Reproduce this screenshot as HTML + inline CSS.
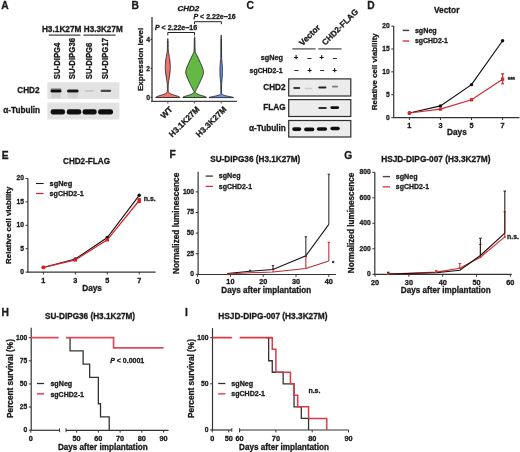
<!DOCTYPE html>
<html><head><meta charset="utf-8"><title>Figure</title>
<style>
html,body{margin:0;padding:0;background:#fff;}
svg{display:block;filter:blur(0.25px);}
text{font-family:'Liberation Sans', Arial, Helvetica, sans-serif;font-weight:bold;fill:#1a1a1a;stroke:#1a1a1a;stroke-width:0.3px;}
</style></head><body>
<svg width="520" height="452" viewBox="0 0 520 452">
<defs><filter id="bl" x="-50%" y="-100%" width="200%" height="300%"><feGaussianBlur stdDeviation="0.5"/></filter></defs>
<rect width="520" height="452" fill="#fff"/>
<text x="1.3" y="8.8" font-size="10.25">A</text>
<text x="131.5" y="8.9" font-size="10.25">B</text>
<text x="246.5" y="9.0" font-size="10.25">C</text>
<text x="367.2" y="8.7" font-size="10.25">D</text>
<text x="1.8" y="158.7" font-size="10.25">E</text>
<text x="169.6" y="158.3" font-size="10.25">F</text>
<text x="344.2" y="158.7" font-size="10.25">G</text>
<text x="1.5" y="315.8" font-size="10.25">H</text>
<text x="185.0" y="315.9" font-size="10.25">I</text>
<text x="41.9" y="31.6" font-size="8.2" textLength="39.6" lengthAdjust="spacingAndGlyphs">H3.1K27M</text>
<text x="83.8" y="31.6" font-size="8.2" textLength="38.9" lengthAdjust="spacingAndGlyphs">H3.3K27M</text>
<line x1="48.7" y1="35.2" x2="80.4" y2="35.2" stroke="#444" stroke-width="1.2"/>
<line x1="83.5" y1="35.2" x2="115.6" y2="35.2" stroke="#444" stroke-width="1.2"/>
<text x="60.45" y="79.2" font-size="9.2" textLength="36.6" lengthAdjust="spacingAndGlyphs" transform="rotate(-90 60.45 79.2)">SU-DIPG4</text>
<text x="75.4" y="79.2" font-size="9.2" textLength="41.3" lengthAdjust="spacingAndGlyphs" transform="rotate(-90 75.4 79.2)">SU-DIPG36</text>
<text x="92.45" y="79.2" font-size="9.2" textLength="36.6" lengthAdjust="spacingAndGlyphs" transform="rotate(-90 92.45 79.2)">SU-DIPG6</text>
<text x="108.0" y="79.2" font-size="9.2" textLength="41.3" lengthAdjust="spacingAndGlyphs" transform="rotate(-90 108.0 79.2)">SU-DIPG17</text>
<rect x="47.4" y="82.3" width="72" height="16.6" fill="#e2e2e2" stroke="none" stroke-width="0"/>
<rect x="47.4" y="102.6" width="72" height="16.9" fill="#e2e2e2" stroke="none" stroke-width="0"/>
<text x="39.6" y="93.0" font-size="8.2" text-anchor="end">CHD2</text>
<text x="40.0" y="113.0" font-size="8.2" text-anchor="end">α-Tubulin</text>
<rect x="50.6" y="88.6" width="10.799999999999997" height="2.200000000000003" rx="1.1000000000000014" fill="#111" opacity="0.6" filter="url(#bl)"/>
<rect x="50.6" y="90.0" width="10.799999999999997" height="2.5999999999999943" rx="1.2999999999999972" fill="#111" opacity="1.0" filter="url(#bl)"/>
<rect x="51.0" y="93.0" width="10.0" height="5.200000000000003" rx="2.2" fill="#111" opacity="0.08" filter="url(#bl)"/>
<rect x="67.0" y="89.4" width="11.599999999999994" height="3.0" rx="1.5" fill="#111" opacity="0.95" filter="url(#bl)"/>
<rect x="67.3" y="93.0" width="11.0" height="5.200000000000003" rx="2.2" fill="#111" opacity="0.06" filter="url(#bl)"/>
<rect x="84.6" y="89.9" width="9.200000000000003" height="1.7999999999999972" rx="0.8999999999999986" fill="#111" opacity="0.13" filter="url(#bl)"/>
<rect x="100.6" y="89.7" width="10.600000000000009" height="2.299999999999997" rx="1.1499999999999986" fill="#111" opacity="0.72" filter="url(#bl)"/>
<rect x="50.7" y="109.3" width="14.299999999999997" height="5.200000000000003" rx="2.2" fill="#111" opacity="1.0" filter="url(#bl)"/>
<rect x="66.8" y="109.3" width="14.400000000000006" height="5.200000000000003" rx="2.2" fill="#111" opacity="1.0" filter="url(#bl)"/>
<rect x="82.6" y="109.3" width="14.100000000000009" height="5.200000000000003" rx="2.2" fill="#111" opacity="1.0" filter="url(#bl)"/>
<rect x="98.1" y="109.3" width="14.900000000000006" height="5.200000000000003" rx="2.2" fill="#111" opacity="1.0" filter="url(#bl)"/>
<text x="188.4" y="10.6" font-size="8.0" text-anchor="middle" font-style="italic">CHD2</text>
<text x="193.5" y="19.0" font-size="7.0"><tspan font-style="italic">P</tspan> &lt; 2.22e−16</text>
<text x="155.0" y="30.0" font-size="7.0"><tspan font-style="italic">P</tspan> &lt; 2.22e−16</text>
<path d="M194.5 24.2 V21.7 H221.4 V24.2" stroke="#222" stroke-width="1.0" fill="none"/>
<path d="M167.8 35.4 V32.5 H194.5 V35.4" stroke="#222" stroke-width="1.0" fill="none"/>
<line x1="152.0" y1="16.9" x2="152.0" y2="101.9" stroke="#5a5a5a" stroke-width="1.6"/>
<line x1="151.2" y1="101.35" x2="237.0" y2="101.35" stroke="#444" stroke-width="1.1"/>
<line x1="150.6" y1="97.4" x2="152.0" y2="97.4" stroke="#1a1a1a" stroke-width="0.9"/>
<text x="150.1" y="99.7" font-size="7.8" text-anchor="end" textLength="3.82" lengthAdjust="spacingAndGlyphs">0</text>
<line x1="150.6" y1="68.4" x2="152.0" y2="68.4" stroke="#1a1a1a" stroke-width="0.9"/>
<text x="150.1" y="70.6" font-size="7.8" text-anchor="end" textLength="3.82" lengthAdjust="spacingAndGlyphs">2</text>
<line x1="150.6" y1="39.400000000000006" x2="152.0" y2="39.400000000000006" stroke="#1a1a1a" stroke-width="0.9"/>
<text x="150.1" y="41.8" font-size="7.8" text-anchor="end" textLength="3.82" lengthAdjust="spacingAndGlyphs">4</text>
<line x1="167.9" y1="101.3" x2="167.9" y2="103.5" stroke="#444" stroke-width="0.9"/>
<line x1="194.4" y1="101.3" x2="194.4" y2="103.5" stroke="#444" stroke-width="0.9"/>
<line x1="221.2" y1="101.3" x2="221.2" y2="103.5" stroke="#444" stroke-width="0.9"/>
<text x="173.0" y="110.0" font-size="8.2" text-anchor="end" transform="rotate(-45 173.0 110.0)">WT</text>
<text x="200.0" y="110.0" font-size="8.2" text-anchor="end" transform="rotate(-45 200.0 110.0)">H3.1K27M</text>
<text x="227.0" y="110.0" font-size="8.2" text-anchor="end" transform="rotate(-45 227.0 110.0)">H3.3K27M</text>
<text x="142.7" y="59.35" font-size="8.03" text-anchor="middle" transform="rotate(-90 142.7 59.35)">Expression level</text>
<path d="M167.80 38.50 L167.80 38.50 L167.84 38.83 L167.90 39.24 L167.97 39.75 L168.04 40.37 L168.10 41.12 L168.15 42.00 L168.17 43.11 L168.18 44.44 L168.18 45.91 L168.18 47.39 L168.20 48.79 L168.25 50.00 L168.34 51.01 L168.45 51.89 L168.58 52.69 L168.72 53.44 L168.86 54.20 L169.00 55.00 L169.13 55.82 L169.27 56.61 L169.42 57.41 L169.55 58.22 L169.68 59.08 L169.80 60.00 L169.91 61.01 L170.02 62.09 L170.12 63.22 L170.20 64.35 L170.27 65.46 L170.30 66.50 L170.30 67.47 L170.28 68.39 L170.23 69.28 L170.17 70.17 L170.09 71.07 L170.00 72.00 L169.90 72.98 L169.77 74.00 L169.63 75.03 L169.49 76.06 L169.34 77.05 L169.20 78.00 L169.06 78.89 L168.91 79.74 L168.76 80.56 L168.62 81.37 L168.50 82.18 L168.40 83.00 L168.33 83.85 L168.28 84.72 L168.24 85.59 L168.22 86.44 L168.21 87.25 L168.20 88.00 L168.19 88.69 L168.18 89.35 L168.18 89.97 L168.19 90.54 L168.23 91.05 L168.30 91.50 L168.40 91.87 L168.51 92.16 L168.65 92.39 L168.82 92.59 L169.04 92.78 L169.30 93.00 L169.61 93.23 L169.97 93.45 L170.36 93.66 L170.80 93.87 L171.28 94.09 L171.80 94.30 L172.39 94.52 L173.06 94.74 L173.77 94.97 L174.49 95.19 L175.17 95.40 L175.80 95.60 L176.38 95.79 L176.95 95.97 L177.49 96.14 L177.99 96.30 L178.43 96.45 L178.80 96.60 L179.09 96.74 L179.32 96.87 L179.49 97.00 L179.61 97.11 L179.71 97.22 L179.80 97.30 L179.86 97.36 L179.87 97.41 L179.86 97.44 L179.84 97.47 L179.81 97.48 L179.80 97.50 L155.80 97.50 L155.79 97.48 L155.76 97.47 L155.74 97.44 L155.73 97.41 L155.74 97.36 L155.80 97.30 L155.89 97.22 L155.99 97.11 L156.11 97.00 L156.28 96.87 L156.51 96.74 L156.80 96.60 L157.17 96.45 L157.61 96.30 L158.11 96.14 L158.65 95.97 L159.22 95.79 L159.80 95.60 L160.43 95.40 L161.11 95.19 L161.83 94.97 L162.54 94.74 L163.21 94.52 L163.80 94.30 L164.32 94.09 L164.80 93.87 L165.24 93.66 L165.63 93.45 L165.99 93.23 L166.30 93.00 L166.56 92.78 L166.78 92.59 L166.95 92.39 L167.09 92.16 L167.20 91.87 L167.30 91.50 L167.37 91.05 L167.41 90.54 L167.43 89.97 L167.42 89.35 L167.41 88.69 L167.40 88.00 L167.39 87.25 L167.38 86.44 L167.36 85.59 L167.32 84.72 L167.27 83.85 L167.20 83.00 L167.10 82.18 L166.98 81.37 L166.84 80.56 L166.69 79.74 L166.54 78.89 L166.40 78.00 L166.26 77.05 L166.11 76.06 L165.97 75.03 L165.83 74.00 L165.70 72.98 L165.60 72.00 L165.51 71.07 L165.43 70.17 L165.37 69.28 L165.32 68.39 L165.30 67.47 L165.30 66.50 L165.33 65.46 L165.40 64.35 L165.48 63.22 L165.58 62.09 L165.69 61.01 L165.80 60.00 L165.92 59.08 L166.05 58.22 L166.18 57.41 L166.33 56.61 L166.47 55.82 L166.60 55.00 L166.74 54.20 L166.88 53.44 L167.02 52.69 L167.15 51.89 L167.26 51.01 L167.35 50.00 L167.40 48.79 L167.42 47.39 L167.43 45.91 L167.42 44.44 L167.43 43.11 L167.45 42.00 L167.50 41.12 L167.56 40.37 L167.63 39.75 L167.70 39.24 L167.76 38.83 L167.80 38.50 Z" stroke="#1e1e1e" stroke-width="0.85" fill="#f0736e" stroke-linejoin="round"/>
<path d="M194.60 36.70 L194.60 36.70 L194.63 36.99 L194.68 37.34 L194.74 37.79 L194.80 38.36 L194.86 39.08 L194.90 40.00 L194.93 41.23 L194.95 42.78 L194.97 44.49 L194.98 46.20 L195.01 47.75 L195.05 49.00 L195.09 49.90 L195.13 50.57 L195.18 51.09 L195.25 51.54 L195.35 51.98 L195.50 52.50 L195.70 53.05 L195.93 53.57 L196.20 54.09 L196.51 54.65 L196.84 55.27 L197.20 56.00 L197.61 56.87 L198.07 57.85 L198.57 58.91 L199.07 59.98 L199.56 61.03 L200.00 62.00 L200.41 62.89 L200.81 63.73 L201.19 64.54 L201.56 65.35 L201.89 66.16 L202.20 67.00 L202.50 67.87 L202.80 68.77 L203.07 69.67 L203.29 70.57 L203.44 71.45 L203.50 72.30 L203.44 73.11 L203.29 73.90 L203.07 74.67 L202.80 75.43 L202.50 76.21 L202.20 77.00 L201.89 77.82 L201.53 78.66 L201.16 79.51 L200.77 80.36 L200.38 81.19 L200.00 82.00 L199.63 82.79 L199.25 83.57 L198.88 84.34 L198.50 85.09 L198.14 85.81 L197.80 86.50 L197.47 87.16 L197.14 87.79 L196.82 88.39 L196.52 88.97 L196.24 89.50 L196.00 90.00 L195.77 90.45 L195.54 90.86 L195.34 91.23 L195.19 91.57 L195.10 91.89 L195.10 92.20 L195.19 92.48 L195.37 92.73 L195.61 92.96 L195.90 93.17 L196.24 93.38 L196.60 93.60 L197.00 93.82 L197.45 94.04 L197.94 94.26 L198.47 94.48 L199.02 94.69 L199.60 94.90 L200.23 95.11 L200.91 95.32 L201.63 95.53 L202.34 95.73 L203.01 95.92 L203.60 96.10 L204.13 96.27 L204.63 96.44 L205.08 96.59 L205.49 96.74 L205.83 96.88 L206.10 97.00 L206.28 97.11 L206.37 97.21 L206.41 97.31 L206.40 97.39 L206.39 97.45 L206.40 97.50 L182.80 97.50 L182.81 97.45 L182.80 97.39 L182.79 97.31 L182.83 97.21 L182.92 97.11 L183.10 97.00 L183.37 96.88 L183.71 96.74 L184.12 96.59 L184.57 96.44 L185.07 96.27 L185.60 96.10 L186.19 95.92 L186.86 95.73 L187.57 95.53 L188.29 95.32 L188.97 95.11 L189.60 94.90 L190.18 94.69 L190.73 94.48 L191.26 94.26 L191.75 94.04 L192.20 93.82 L192.60 93.60 L192.96 93.38 L193.30 93.17 L193.59 92.96 L193.83 92.73 L194.01 92.48 L194.10 92.20 L194.10 91.89 L194.01 91.57 L193.86 91.23 L193.66 90.86 L193.43 90.45 L193.20 90.00 L192.96 89.50 L192.68 88.97 L192.38 88.39 L192.06 87.79 L191.73 87.16 L191.40 86.50 L191.06 85.81 L190.70 85.09 L190.32 84.34 L189.95 83.57 L189.57 82.79 L189.20 82.00 L188.82 81.19 L188.43 80.36 L188.04 79.51 L187.67 78.66 L187.31 77.82 L187.00 77.00 L186.70 76.21 L186.40 75.43 L186.13 74.67 L185.91 73.90 L185.76 73.11 L185.70 72.30 L185.76 71.45 L185.91 70.57 L186.13 69.67 L186.40 68.77 L186.70 67.87 L187.00 67.00 L187.31 66.16 L187.64 65.35 L188.01 64.54 L188.39 63.73 L188.79 62.89 L189.20 62.00 L189.64 61.03 L190.13 59.98 L190.63 58.91 L191.13 57.85 L191.59 56.87 L192.00 56.00 L192.36 55.27 L192.69 54.65 L193.00 54.09 L193.27 53.57 L193.50 53.05 L193.70 52.50 L193.85 51.98 L193.95 51.54 L194.02 51.09 L194.07 50.57 L194.11 49.90 L194.15 49.00 L194.19 47.75 L194.22 46.20 L194.23 44.49 L194.25 42.78 L194.27 41.23 L194.30 40.00 L194.34 39.08 L194.40 38.36 L194.46 37.79 L194.52 37.34 L194.57 36.99 L194.60 36.70 Z" stroke="#1e1e1e" stroke-width="0.85" fill="#66b845" stroke-linejoin="round"/>
<path d="M221.20 35.10 L221.20 35.10 L221.23 35.50 L221.29 35.96 L221.34 36.55 L221.40 37.36 L221.46 38.48 L221.50 40.00 L221.53 42.15 L221.54 44.92 L221.55 47.99 L221.56 51.07 L221.57 53.84 L221.60 56.00 L221.64 57.47 L221.68 58.48 L221.73 59.19 L221.79 59.74 L221.84 60.29 L221.90 61.00 L221.96 61.84 L222.03 62.69 L222.11 63.53 L222.18 64.37 L222.24 65.20 L222.30 66.00 L222.35 66.77 L222.40 67.50 L222.44 68.22 L222.47 68.94 L222.49 69.70 L222.50 70.50 L222.49 71.36 L222.47 72.28 L222.44 73.22 L222.40 74.17 L222.35 75.10 L222.30 76.00 L222.24 76.86 L222.18 77.70 L222.11 78.53 L222.03 79.35 L221.96 80.17 L221.90 81.00 L221.84 81.82 L221.78 82.63 L221.72 83.44 L221.67 84.26 L221.63 85.11 L221.60 86.00 L221.58 86.99 L221.56 88.07 L221.56 89.17 L221.56 90.24 L221.57 91.21 L221.60 92.00 L221.62 92.60 L221.64 93.06 L221.66 93.41 L221.72 93.69 L221.82 93.94 L222.00 94.20 L222.24 94.45 L222.53 94.65 L222.88 94.83 L223.27 94.98 L223.71 95.14 L224.20 95.30 L224.76 95.47 L225.40 95.65 L226.09 95.82 L226.80 95.99 L227.51 96.15 L228.20 96.30 L228.90 96.45 L229.63 96.59 L230.37 96.73 L231.07 96.86 L231.69 96.99 L232.20 97.10 L232.59 97.21 L232.88 97.31 L233.10 97.40 L233.26 97.48 L233.39 97.55 L233.50 97.60 L208.90 97.60 L209.01 97.55 L209.14 97.48 L209.30 97.40 L209.52 97.31 L209.81 97.21 L210.20 97.10 L210.71 96.99 L211.33 96.86 L212.03 96.73 L212.77 96.59 L213.50 96.45 L214.20 96.30 L214.89 96.15 L215.60 95.99 L216.31 95.82 L217.00 95.65 L217.64 95.47 L218.20 95.30 L218.69 95.14 L219.13 94.98 L219.52 94.83 L219.87 94.65 L220.16 94.45 L220.40 94.20 L220.58 93.94 L220.68 93.69 L220.74 93.41 L220.76 93.06 L220.78 92.60 L220.80 92.00 L220.83 91.21 L220.84 90.24 L220.84 89.17 L220.84 88.07 L220.82 86.99 L220.80 86.00 L220.77 85.11 L220.73 84.26 L220.67 83.44 L220.62 82.63 L220.56 81.82 L220.50 81.00 L220.44 80.17 L220.37 79.35 L220.29 78.53 L220.22 77.70 L220.16 76.86 L220.10 76.00 L220.05 75.10 L220.00 74.17 L219.96 73.22 L219.93 72.28 L219.91 71.36 L219.90 70.50 L219.91 69.70 L219.93 68.94 L219.96 68.22 L220.00 67.50 L220.05 66.77 L220.10 66.00 L220.16 65.20 L220.22 64.37 L220.29 63.53 L220.37 62.69 L220.44 61.84 L220.50 61.00 L220.56 60.29 L220.61 59.74 L220.67 59.19 L220.72 58.48 L220.76 57.47 L220.80 56.00 L220.83 53.84 L220.84 51.07 L220.85 47.99 L220.86 44.92 L220.87 42.15 L220.90 40.00 L220.94 38.48 L221.00 37.36 L221.06 36.55 L221.11 35.96 L221.17 35.50 L221.20 35.10 Z" stroke="#1e1e1e" stroke-width="0.85" fill="#6491f0" stroke-linejoin="round"/>
<text x="302.6" y="46.2" font-size="8.4" transform="rotate(-45 302.6 46.2)">Vector</text>
<text x="325.3" y="45.8" font-size="8.2" transform="rotate(-45 325.3 45.8)">CHD2-FLAG</text>
<line x1="292.3" y1="48.9" x2="315.5" y2="48.9" stroke="#555" stroke-width="1.3"/>
<line x1="318.3" y1="48.9" x2="341.5" y2="48.9" stroke="#555" stroke-width="1.3"/>
<text x="283.0" y="60.2" font-size="7.3" text-anchor="end">sgNeg</text>
<text x="282.5" y="72.6" font-size="7.3" text-anchor="end" textLength="32.9" lengthAdjust="spacingAndGlyphs">sgCHD2-1</text>
<text x="296.25" y="60.0" font-size="7.3" text-anchor="middle">+</text>
<text x="309.4" y="60.8" font-size="7.3" text-anchor="middle">−</text>
<text x="321.6" y="60.0" font-size="7.3" text-anchor="middle">+</text>
<text x="334.9" y="60.8" font-size="7.3" text-anchor="middle">−</text>
<text x="296.5" y="72.7" font-size="7.3" text-anchor="middle">−</text>
<text x="309.7" y="72.7" font-size="7.3" text-anchor="middle">+</text>
<text x="322.2" y="72.7" font-size="7.3" text-anchor="middle">−</text>
<text x="334.7" y="72.7" font-size="7.3" text-anchor="middle">+</text>
<rect x="288.70000000000005" y="78.89999999999999" width="62.099999999999994" height="17.099999999999998" fill="#ececec" stroke="#2e2e2e" stroke-width="1.2"/>
<rect x="288.70000000000005" y="99.6" width="62.099999999999994" height="16.899999999999995" fill="#ececec" stroke="#2e2e2e" stroke-width="1.2"/>
<rect x="288.70000000000005" y="120.5" width="62.099999999999994" height="16.49999999999999" fill="#ececec" stroke="#2e2e2e" stroke-width="1.2"/>
<text x="285.6" y="89.9" font-size="8.2" text-anchor="end">CHD2</text>
<text x="285.6" y="110.1" font-size="8.2" text-anchor="end">FLAG</text>
<text x="285.8" y="131.0" font-size="8.2" text-anchor="end">α-Tubulin</text>
<rect x="293.2" y="87.0" width="7.0" height="2.0" rx="1.0" fill="#111" opacity="0.8" filter="url(#bl)"/>
<rect x="304.6" y="87.7" width="7.599999999999966" height="1.5999999999999943" rx="0.7999999999999972" fill="#111" opacity="0.14" filter="url(#bl)"/>
<rect x="318.3" y="86.6" width="8.099999999999966" height="2.0" rx="1.0" fill="#111" opacity="0.9" filter="url(#bl)"/>
<rect x="331.9" y="85.8" width="6.2000000000000455" height="1.6000000000000085" rx="0.8000000000000043" fill="#111" opacity="0.5" filter="url(#bl)"/>
<rect x="318.3" y="106.9" width="8.5" height="2.0" rx="1.0" fill="#111" opacity="0.85" filter="url(#bl)"/>
<rect x="330.4" y="106.3" width="8.700000000000045" height="2.6000000000000085" rx="1.3000000000000043" fill="#111" opacity="1.0" filter="url(#bl)"/>
<rect x="292.2" y="127.3" width="9.100000000000023" height="3.6000000000000085" rx="1.8000000000000043" fill="#111" opacity="1.0" filter="url(#bl)"/>
<rect x="304.1" y="127.60000000000001" width="10.199999999999989" height="3.6000000000000085" rx="1.8000000000000043" fill="#111" opacity="1.0" filter="url(#bl)"/>
<rect x="316.8" y="127.2" width="10.300000000000011" height="3.6000000000000085" rx="1.8000000000000043" fill="#111" opacity="1.0" filter="url(#bl)"/>
<rect x="330.4" y="126.7" width="9.400000000000034" height="3.6000000000000085" rx="1.8000000000000043" fill="#111" opacity="1.0" filter="url(#bl)"/>
<text x="446.7" y="12.6" font-size="8.3" text-anchor="middle">Vector</text>
<line x1="393.7" y1="26.0" x2="393.7" y2="117.8" stroke="#333" stroke-width="1.2"/>
<line x1="391.3" y1="117.6" x2="393.7" y2="117.6" stroke="#333" stroke-width="1.0"/>
<text x="389.7" y="119.5" font-size="7.3" text-anchor="end" textLength="3.73" lengthAdjust="spacingAndGlyphs">0</text>
<line x1="391.3" y1="94.725" x2="393.7" y2="94.725" stroke="#333" stroke-width="1.0"/>
<text x="389.7" y="96.62" font-size="7.3" text-anchor="end" textLength="3.73" lengthAdjust="spacingAndGlyphs">5</text>
<line x1="391.3" y1="71.85" x2="393.7" y2="71.85" stroke="#333" stroke-width="1.0"/>
<text x="389.7" y="73.75" font-size="7.3" text-anchor="end" textLength="7.47" lengthAdjust="spacingAndGlyphs">10</text>
<line x1="391.3" y1="48.974999999999994" x2="393.7" y2="48.974999999999994" stroke="#333" stroke-width="1.0"/>
<text x="389.7" y="50.87" font-size="7.3" text-anchor="end" textLength="7.47" lengthAdjust="spacingAndGlyphs">15</text>
<line x1="391.3" y1="26.099999999999994" x2="393.7" y2="26.099999999999994" stroke="#333" stroke-width="1.0"/>
<text x="389.7" y="28.0" font-size="7.3" text-anchor="end" textLength="7.47" lengthAdjust="spacingAndGlyphs">20</text>
<line x1="393.2" y1="117.6" x2="519.5" y2="117.6" stroke="#333" stroke-width="1.2"/>
<line x1="409.4" y1="117.6" x2="409.4" y2="120.0" stroke="#333" stroke-width="1.0"/>
<text x="409.4" y="127.6" font-size="7.3" text-anchor="middle">1</text>
<line x1="440.46" y1="117.6" x2="440.46" y2="120.0" stroke="#333" stroke-width="1.0"/>
<text x="440.46" y="127.6" font-size="7.3" text-anchor="middle">3</text>
<line x1="471.52" y1="117.6" x2="471.52" y2="120.0" stroke="#333" stroke-width="1.0"/>
<text x="471.52" y="127.6" font-size="7.3" text-anchor="middle">5</text>
<line x1="502.58" y1="117.6" x2="502.58" y2="120.0" stroke="#333" stroke-width="1.0"/>
<text x="502.58" y="127.6" font-size="7.3" text-anchor="middle">7</text>
<text x="456.9" y="135.4" font-size="8.25" text-anchor="middle">Days</text>
<text x="377.1" y="71.75" font-size="7.85" text-anchor="middle" transform="rotate(-90 377.1 71.75)">Relative cell viability</text>
<line x1="402.7" y1="30.4" x2="409.2" y2="30.4" stroke="#444" stroke-width="1.5"/>
<text x="414.9" y="33.0" font-size="7.15">sgNeg</text>
<line x1="402.7" y1="41.0" x2="409.2" y2="41.0" stroke="#e0505a" stroke-width="1.6"/>
<text x="414.9" y="43.4" font-size="7.15" textLength="33.0" lengthAdjust="spacingAndGlyphs">sgCHD2-1</text>
<path d="M409.40 113.02 L440.46 105.93 L471.52 84.66 L502.58 40.74" stroke="#111" stroke-width="1.2" fill="none"/>
<circle cx="409.4" cy="113.02499999999999" r="1.7" fill="#111"/>
<circle cx="440.46" cy="105.93374999999999" r="1.7" fill="#111"/>
<circle cx="471.52" cy="84.66" r="1.7" fill="#111"/>
<circle cx="502.58" cy="40.739999999999995" r="1.7" fill="#111"/>
<line x1="502.58" y1="73.8" x2="502.58" y2="83.8" stroke="#d02a30" stroke-width="1.2"/>
<line x1="501.08" y1="73.8" x2="504.08" y2="73.8" stroke="#d02a30" stroke-width="1.2"/>
<line x1="501.08" y1="83.8" x2="504.08" y2="83.8" stroke="#d02a30" stroke-width="1.2"/>
<path d="M409.40 113.02 L440.46 109.14 L471.52 99.76 L502.58 79.17" stroke="#d02a30" stroke-width="1.2" fill="none"/>
<rect x="407.75" y="111.37499999999999" width="3.3" height="3.3" fill="#d02a30" stroke="none" stroke-width="0"/>
<rect x="438.81" y="107.48624999999998" width="3.3" height="3.3" fill="#d02a30" stroke="none" stroke-width="0"/>
<rect x="469.87" y="98.10749999999999" width="3.3" height="3.3" fill="#d02a30" stroke="none" stroke-width="0"/>
<rect x="500.93" y="77.51999999999998" width="3.3" height="3.3" fill="#d02a30" stroke="none" stroke-width="0"/>
<text x="507.7" y="82.3" font-size="6.6" textLength="7.4" lengthAdjust="spacingAndGlyphs">***</text>
<text x="86.5" y="164.1" font-size="8.15" text-anchor="middle">CHD2-FLAG</text>
<line x1="27.9" y1="178.5" x2="27.9" y2="272.6" stroke="#333" stroke-width="1.2"/>
<line x1="25.5" y1="272.1" x2="27.9" y2="272.1" stroke="#333" stroke-width="1.0"/>
<text x="23.9" y="274.0" font-size="7.3" text-anchor="end" textLength="3.73" lengthAdjust="spacingAndGlyphs">0</text>
<line x1="25.5" y1="248.70000000000002" x2="27.9" y2="248.70000000000002" stroke="#333" stroke-width="1.0"/>
<text x="23.9" y="250.6" font-size="7.3" text-anchor="end" textLength="3.73" lengthAdjust="spacingAndGlyphs">5</text>
<line x1="25.5" y1="225.3" x2="27.9" y2="225.3" stroke="#333" stroke-width="1.0"/>
<text x="23.9" y="227.2" font-size="7.3" text-anchor="end" textLength="7.47" lengthAdjust="spacingAndGlyphs">10</text>
<line x1="25.5" y1="201.90000000000003" x2="27.9" y2="201.90000000000003" stroke="#333" stroke-width="1.0"/>
<text x="23.9" y="203.8" font-size="7.3" text-anchor="end" textLength="7.47" lengthAdjust="spacingAndGlyphs">15</text>
<line x1="25.5" y1="178.50000000000003" x2="27.9" y2="178.50000000000003" stroke="#333" stroke-width="1.0"/>
<text x="23.9" y="180.4" font-size="7.3" text-anchor="end" textLength="7.47" lengthAdjust="spacingAndGlyphs">20</text>
<line x1="27.4" y1="272.1" x2="155.6" y2="272.1" stroke="#333" stroke-width="1.2"/>
<line x1="43.4" y1="272.1" x2="43.4" y2="274.5" stroke="#333" stroke-width="1.0"/>
<text x="43.4" y="283.3" font-size="7.3" text-anchor="middle">1</text>
<line x1="75.34" y1="272.1" x2="75.34" y2="274.5" stroke="#333" stroke-width="1.0"/>
<text x="75.34" y="283.3" font-size="7.3" text-anchor="middle">3</text>
<line x1="107.28" y1="272.1" x2="107.28" y2="274.5" stroke="#333" stroke-width="1.0"/>
<text x="107.28" y="283.3" font-size="7.3" text-anchor="middle">5</text>
<line x1="139.22" y1="272.1" x2="139.22" y2="274.5" stroke="#333" stroke-width="1.0"/>
<text x="139.22" y="283.3" font-size="7.3" text-anchor="middle">7</text>
<text x="92.1" y="291.1" font-size="8.25" text-anchor="middle">Days</text>
<text x="11.3" y="225.3" font-size="7.9" text-anchor="middle" transform="rotate(-90 11.3 225.3)">Relative cell viability</text>
<line x1="36.0" y1="183.5" x2="43.6" y2="183.5" stroke="#1a1a1a" stroke-width="1.1"/>
<text x="49.6" y="185.9" font-size="7.4">sgNeg</text>
<line x1="36.0" y1="193.5" x2="43.6" y2="193.5" stroke="#e02030" stroke-width="1.2"/>
<text x="49.6" y="196.1" font-size="7.3" textLength="34.0" lengthAdjust="spacingAndGlyphs">sgCHD2-1</text>
<path d="M43.40 267.42 L75.34 259.00 L107.28 237.47 L139.22 195.35" stroke="#111" stroke-width="1.1" fill="none"/>
<circle cx="43.4" cy="267.42" r="1.75" fill="#111"/>
<circle cx="75.34" cy="258.99600000000004" r="1.75" fill="#111"/>
<circle cx="107.28" cy="237.46800000000002" r="1.75" fill="#111"/>
<circle cx="139.22" cy="195.348" r="1.75" fill="#111"/>
<rect x="137.82" y="197.9" width="2.8" height="5.3" fill="#d82028" stroke="none" stroke-width="0"/>
<path d="M43.40 267.42 L75.34 259.93 L107.28 239.81 L139.22 200.50" stroke="#d82028" stroke-width="1.2" fill="none"/>
<rect x="41.699999999999996" y="265.72" width="3.4" height="3.4" fill="#d82028" stroke="none" stroke-width="0"/>
<rect x="73.64" y="258.232" width="3.4" height="3.4" fill="#d82028" stroke="none" stroke-width="0"/>
<rect x="105.58" y="238.10800000000003" width="3.4" height="3.4" fill="#d82028" stroke="none" stroke-width="0"/>
<rect x="137.52" y="198.79600000000005" width="3.4" height="3.4" fill="#d82028" stroke="none" stroke-width="0"/>
<text x="143.7" y="201.0" font-size="7.0">n.s.</text>
<text x="255.3" y="161.9" font-size="8.2" text-anchor="middle">SU-DIPG36 (H3.1K27M)</text>
<line x1="198.1" y1="171.7" x2="198.1" y2="274.8" stroke="#333" stroke-width="1.2"/>
<line x1="195.7" y1="274.3" x2="198.1" y2="274.3" stroke="#333" stroke-width="1.0"/>
<text x="194.1" y="276.2" font-size="7.3" text-anchor="end" textLength="3.73" lengthAdjust="spacingAndGlyphs">0</text>
<line x1="195.7" y1="253.70000000000002" x2="198.1" y2="253.70000000000002" stroke="#333" stroke-width="1.0"/>
<text x="194.1" y="255.6" font-size="7.3" text-anchor="end" textLength="7.47" lengthAdjust="spacingAndGlyphs">25</text>
<line x1="195.7" y1="233.10000000000002" x2="198.1" y2="233.10000000000002" stroke="#333" stroke-width="1.0"/>
<text x="194.1" y="235.0" font-size="7.3" text-anchor="end" textLength="7.47" lengthAdjust="spacingAndGlyphs">50</text>
<line x1="195.7" y1="212.5" x2="198.1" y2="212.5" stroke="#333" stroke-width="1.0"/>
<text x="194.1" y="214.4" font-size="7.3" text-anchor="end" textLength="7.47" lengthAdjust="spacingAndGlyphs">75</text>
<line x1="195.7" y1="191.90000000000003" x2="198.1" y2="191.90000000000003" stroke="#333" stroke-width="1.0"/>
<text x="194.1" y="193.8" font-size="7.3" text-anchor="end" textLength="11.2" lengthAdjust="spacingAndGlyphs">100</text>
<line x1="197.6" y1="274.5" x2="336.0" y2="274.5" stroke="#333" stroke-width="1.2"/>
<line x1="197.6" y1="274.5" x2="197.6" y2="276.9" stroke="#333" stroke-width="1.0"/>
<text x="197.6" y="284.4" font-size="7.3" text-anchor="middle">0</text>
<line x1="230.39999999999998" y1="274.5" x2="230.39999999999998" y2="276.9" stroke="#333" stroke-width="1.0"/>
<text x="230.4" y="284.4" font-size="7.3" text-anchor="middle">10</text>
<line x1="263.2" y1="274.5" x2="263.2" y2="276.9" stroke="#333" stroke-width="1.0"/>
<text x="263.2" y="284.4" font-size="7.3" text-anchor="middle">20</text>
<line x1="296.0" y1="274.5" x2="296.0" y2="276.9" stroke="#333" stroke-width="1.0"/>
<text x="296.0" y="284.4" font-size="7.3" text-anchor="middle">30</text>
<line x1="328.79999999999995" y1="274.5" x2="328.79999999999995" y2="276.9" stroke="#333" stroke-width="1.0"/>
<text x="328.8" y="284.4" font-size="7.3" text-anchor="middle">40</text>
<text x="266.2" y="292.6" font-size="8.15" text-anchor="middle">Days after implantation</text>
<text x="178.9" y="223.4" font-size="8.25" text-anchor="middle" transform="rotate(-90 178.9 223.4)">Normalized luminescence</text>
<line x1="205.6" y1="176.1" x2="212.9" y2="176.1" stroke="#3a3a3a" stroke-width="1.3"/>
<text x="218.8" y="178.2" font-size="7.1">sgNeg</text>
<line x1="205.6" y1="186.4" x2="212.9" y2="186.4" stroke="#d83038" stroke-width="1.3"/>
<text x="218.8" y="188.6" font-size="7.1" textLength="33.2" lengthAdjust="spacingAndGlyphs">sgCHD2-1</text>
<line x1="250.07999999999998" y1="270.3" x2="250.07999999999998" y2="271.2" stroke="#333" stroke-width="1.1"/>
<line x1="248.88" y1="270.3" x2="251.27999999999997" y2="270.3" stroke="#333" stroke-width="1.1"/>
<line x1="273.03999999999996" y1="265.5" x2="273.03999999999996" y2="269.6" stroke="#333" stroke-width="1.1"/>
<line x1="271.84" y1="265.5" x2="274.23999999999995" y2="265.5" stroke="#333" stroke-width="1.1"/>
<line x1="305.84" y1="236.8" x2="305.84" y2="255.8" stroke="#333" stroke-width="1.1"/>
<line x1="304.64" y1="236.8" x2="307.03999999999996" y2="236.8" stroke="#333" stroke-width="1.1"/>
<line x1="328.79999999999995" y1="174.2" x2="328.79999999999995" y2="224.4" stroke="#333" stroke-width="1.1"/>
<line x1="327.59999999999997" y1="174.2" x2="329.99999999999994" y2="174.2" stroke="#333" stroke-width="1.1"/>
<line x1="273.03999999999996" y1="268.5" x2="273.03999999999996" y2="272.0" stroke="#c8404c" stroke-width="1.2"/>
<line x1="271.84" y1="268.5" x2="274.23999999999995" y2="268.5" stroke="#c8404c" stroke-width="1.2"/>
<line x1="305.84" y1="256.5" x2="305.84" y2="268.5" stroke="#c8404c" stroke-width="1.2"/>
<line x1="304.64" y1="256.5" x2="307.03999999999996" y2="256.5" stroke="#c8404c" stroke-width="1.2"/>
<line x1="328.79999999999995" y1="242.4" x2="328.79999999999995" y2="261.1" stroke="#c8404c" stroke-width="1.2"/>
<line x1="327.59999999999997" y1="242.4" x2="329.99999999999994" y2="242.4" stroke="#c8404c" stroke-width="1.2"/>
<path d="M227.12 273.50 L250.08 271.20 L273.04 269.60 L305.84 255.80 L328.80 224.40" stroke="#111" stroke-width="1.05" fill="none"/>
<path d="M227.12 274.00 L250.08 272.80 L273.04 272.00 L305.84 268.50 L328.80 261.10" stroke="#b82a34" stroke-width="1.05" fill="none"/>
<text x="332.0" y="264.6" font-size="6.0">*</text>
<text x="435.8" y="162.3" font-size="8.3" text-anchor="middle">HSJD-DIPG-007 (H3.3K27M)</text>
<line x1="374.8" y1="172.3" x2="374.8" y2="274.8" stroke="#333" stroke-width="1.2"/>
<line x1="372.40000000000003" y1="274.3" x2="374.8" y2="274.3" stroke="#333" stroke-width="1.0"/>
<text x="370.8" y="276.2" font-size="7.3" text-anchor="end" textLength="3.73" lengthAdjust="spacingAndGlyphs">0</text>
<line x1="372.40000000000003" y1="248.8" x2="374.8" y2="248.8" stroke="#333" stroke-width="1.0"/>
<text x="370.8" y="250.7" font-size="7.3" text-anchor="end" textLength="11.2" lengthAdjust="spacingAndGlyphs">200</text>
<line x1="372.40000000000003" y1="223.3" x2="374.8" y2="223.3" stroke="#333" stroke-width="1.0"/>
<text x="370.8" y="225.2" font-size="7.3" text-anchor="end" textLength="11.2" lengthAdjust="spacingAndGlyphs">400</text>
<line x1="372.40000000000003" y1="197.8" x2="374.8" y2="197.8" stroke="#333" stroke-width="1.0"/>
<text x="370.8" y="199.7" font-size="7.3" text-anchor="end" textLength="11.2" lengthAdjust="spacingAndGlyphs">600</text>
<line x1="372.40000000000003" y1="172.3" x2="374.8" y2="172.3" stroke="#333" stroke-width="1.0"/>
<text x="370.8" y="174.2" font-size="7.3" text-anchor="end" textLength="11.2" lengthAdjust="spacingAndGlyphs">800</text>
<line x1="374.3" y1="274.3" x2="511.8" y2="274.3" stroke="#333" stroke-width="1.2"/>
<line x1="375.1" y1="274.3" x2="375.1" y2="276.7" stroke="#333" stroke-width="1.0"/>
<text x="375.1" y="284.9" font-size="7.3" text-anchor="middle">20</text>
<line x1="408.90000000000003" y1="274.3" x2="408.90000000000003" y2="276.7" stroke="#333" stroke-width="1.0"/>
<text x="408.9" y="284.9" font-size="7.3" text-anchor="middle">30</text>
<line x1="442.70000000000005" y1="274.3" x2="442.70000000000005" y2="276.7" stroke="#333" stroke-width="1.0"/>
<text x="442.7" y="284.9" font-size="7.3" text-anchor="middle">40</text>
<line x1="476.5" y1="274.3" x2="476.5" y2="276.7" stroke="#333" stroke-width="1.0"/>
<text x="476.5" y="284.9" font-size="7.3" text-anchor="middle">50</text>
<line x1="510.3" y1="274.3" x2="510.3" y2="276.7" stroke="#333" stroke-width="1.0"/>
<text x="510.3" y="284.9" font-size="7.3" text-anchor="middle">60</text>
<text x="445.7" y="292.6" font-size="8.15" text-anchor="middle">Days after implantation</text>
<text x="353.9" y="222.95" font-size="8.2" text-anchor="middle" transform="rotate(-90 353.9 222.95)">Normalized luminescence</text>
<line x1="382.8" y1="176.6" x2="390.0" y2="176.6" stroke="#4a4a4a" stroke-width="1.4"/>
<text x="395.8" y="178.8" font-size="7.1">sgNeg</text>
<line x1="382.8" y1="186.8" x2="390.0" y2="186.8" stroke="#e06068" stroke-width="1.7"/>
<text x="395.8" y="188.9" font-size="7.1" textLength="33.2" lengthAdjust="spacingAndGlyphs">sgCHD2-1</text>
<line x1="436.3" y1="270.6" x2="436.3" y2="272.1" stroke="#e03030" stroke-width="1.1"/>
<line x1="435.0" y1="270.6" x2="437.6" y2="270.6" stroke="#e03030" stroke-width="1.1"/>
<line x1="459.8" y1="263.6" x2="459.8" y2="268.2" stroke="#e03030" stroke-width="1.1"/>
<line x1="458.5" y1="263.6" x2="461.1" y2="263.6" stroke="#e03030" stroke-width="1.1"/>
<line x1="480.4" y1="244.4" x2="480.4" y2="257.2" stroke="#e03030" stroke-width="1.1"/>
<line x1="479.09999999999997" y1="244.4" x2="481.7" y2="244.4" stroke="#e03030" stroke-width="1.1"/>
<line x1="504.8" y1="211.7" x2="504.8" y2="236.9" stroke="#e03030" stroke-width="1.1"/>
<line x1="503.5" y1="211.7" x2="506.1" y2="211.7" stroke="#e03030" stroke-width="1.1"/>
<line x1="388.3" y1="272.3" x2="388.3" y2="274.0" stroke="#222" stroke-width="1.1"/>
<line x1="387.0" y1="272.3" x2="389.6" y2="272.3" stroke="#222" stroke-width="1.1"/>
<line x1="480.4" y1="238.2" x2="480.4" y2="255.5" stroke="#222" stroke-width="1.1"/>
<line x1="479.09999999999997" y1="238.2" x2="481.7" y2="238.2" stroke="#222" stroke-width="1.1"/>
<line x1="504.8" y1="191.1" x2="504.8" y2="233.2" stroke="#222" stroke-width="1.1"/>
<line x1="503.5" y1="191.1" x2="506.1" y2="191.1" stroke="#222" stroke-width="1.1"/>
<path d="M388.30 274.10 L436.30 272.10 L459.80 268.20 L480.40 257.20 L504.80 236.90" stroke="#e02828" stroke-width="1.15" fill="none"/>
<path d="M388.30 274.00 L436.30 272.80 L459.80 270.30 L480.40 255.50 L504.80 233.20" stroke="#111" stroke-width="1.15" fill="none"/>
<rect x="387.40000000000003" y="273.20000000000005" width="1.8" height="1.8" fill="#e02828" stroke="none" stroke-width="0"/>
<rect x="435.40000000000003" y="271.20000000000005" width="1.8" height="1.8" fill="#e02828" stroke="none" stroke-width="0"/>
<rect x="458.90000000000003" y="267.3" width="1.8" height="1.8" fill="#e02828" stroke="none" stroke-width="0"/>
<rect x="479.5" y="256.3" width="1.8" height="1.8" fill="#e02828" stroke="none" stroke-width="0"/>
<rect x="503.90000000000003" y="236.0" width="1.8" height="1.8" fill="#e02828" stroke="none" stroke-width="0"/>
<text x="507.0" y="239.0" font-size="7.0">n.s.</text>
<text x="90.0" y="319.0" font-size="8.2" text-anchor="middle">SU-DIPG36 (H3.1K27M)</text>
<line x1="31.2" y1="327.7" x2="31.2" y2="430.7" stroke="#333" stroke-width="1.2"/>
<line x1="28.8" y1="430.2" x2="31.2" y2="430.2" stroke="#333" stroke-width="1.0"/>
<text x="27.2" y="432.1" font-size="7.3" text-anchor="end" textLength="3.73" lengthAdjust="spacingAndGlyphs">0</text>
<line x1="28.8" y1="407.075" x2="31.2" y2="407.075" stroke="#333" stroke-width="1.0"/>
<text x="27.2" y="408.97" font-size="7.3" text-anchor="end" textLength="7.47" lengthAdjust="spacingAndGlyphs">25</text>
<line x1="28.8" y1="383.95" x2="31.2" y2="383.95" stroke="#333" stroke-width="1.0"/>
<text x="27.2" y="385.85" font-size="7.3" text-anchor="end" textLength="7.47" lengthAdjust="spacingAndGlyphs">50</text>
<line x1="28.8" y1="360.825" x2="31.2" y2="360.825" stroke="#333" stroke-width="1.0"/>
<text x="27.2" y="362.72" font-size="7.3" text-anchor="end" textLength="7.47" lengthAdjust="spacingAndGlyphs">75</text>
<line x1="28.8" y1="337.7" x2="31.2" y2="337.7" stroke="#333" stroke-width="1.0"/>
<text x="27.2" y="339.6" font-size="7.3" text-anchor="end" textLength="11.2" lengthAdjust="spacingAndGlyphs">100</text>
<line x1="31.2" y1="430.3" x2="59.6" y2="430.3" stroke="#333" stroke-width="1.2"/>
<line x1="59.6" y1="428.4" x2="59.6" y2="432.2" stroke="#333" stroke-width="1.0"/>
<line x1="66.0" y1="430.3" x2="168.6" y2="430.3" stroke="#333" stroke-width="1.2"/>
<line x1="66.0" y1="428.4" x2="66.0" y2="432.2" stroke="#333" stroke-width="1.0"/>
<line x1="30.8" y1="430.3" x2="30.8" y2="432.7" stroke="#333" stroke-width="1.0"/>
<text x="30.8" y="441.1" font-size="7.3" text-anchor="middle">0</text>
<line x1="76.6" y1="430.3" x2="76.6" y2="432.7" stroke="#333" stroke-width="1.0"/>
<text x="76.6" y="441.1" font-size="7.3" text-anchor="middle">50</text>
<line x1="98.35" y1="430.3" x2="98.35" y2="432.7" stroke="#333" stroke-width="1.0"/>
<text x="98.35" y="441.1" font-size="7.3" text-anchor="middle">60</text>
<line x1="120.1" y1="430.3" x2="120.1" y2="432.7" stroke="#333" stroke-width="1.0"/>
<text x="120.1" y="441.1" font-size="7.3" text-anchor="middle">70</text>
<line x1="141.85" y1="430.3" x2="141.85" y2="432.7" stroke="#333" stroke-width="1.0"/>
<text x="141.85" y="441.1" font-size="7.3" text-anchor="middle">80</text>
<line x1="163.6" y1="430.3" x2="163.6" y2="432.7" stroke="#333" stroke-width="1.0"/>
<text x="163.6" y="441.1" font-size="7.3" text-anchor="middle">90</text>
<text x="102.85" y="449.6" font-size="8.15" text-anchor="middle">Days after implantation</text>
<text x="12.7" y="378.5" font-size="8.25" text-anchor="middle" transform="rotate(-90 12.7 378.5)">Percent survival (%)</text>
<line x1="36.9" y1="383.5" x2="44.1" y2="383.5" stroke="#333" stroke-width="1.3"/>
<text x="50.4" y="386.3" font-size="7.15">sgNeg</text>
<line x1="36.9" y1="393.8" x2="44.1" y2="393.8" stroke="#e05a66" stroke-width="1.8"/>
<text x="50.4" y="396.6" font-size="7.15" textLength="33.5" lengthAdjust="spacingAndGlyphs">sgCHD2-1</text>
<text x="110.2" y="362.8" font-size="7.0"><tspan font-style="italic">P</tspan> &lt; 0.0001</text>
<path d="M66.3 337.7 H70.07 V350.93 H83.12 V364.15 H89.65 V377.38 H98.35 V403.75 H100.52 V416.97 H109.22 V430.20" stroke="#333" stroke-width="1.3" fill="none"/>
<path d="M31.2 337.7 H58.7 M66.1 337.7 H113.57499999999999 V347.9675 H163.6" stroke="#e04a5c" stroke-width="1.7" fill="none"/>
<text x="272.9" y="319.2" font-size="8.3" text-anchor="middle">HSJD-DIPG-007 (H3.3K27M)</text>
<line x1="212.5" y1="328.1" x2="212.5" y2="430.4" stroke="#333" stroke-width="1.2"/>
<line x1="210.1" y1="429.9" x2="212.5" y2="429.9" stroke="#333" stroke-width="1.0"/>
<text x="208.5" y="431.8" font-size="7.3" text-anchor="end" textLength="3.73" lengthAdjust="spacingAndGlyphs">0</text>
<line x1="210.1" y1="383.79999999999995" x2="212.5" y2="383.79999999999995" stroke="#333" stroke-width="1.0"/>
<text x="208.5" y="385.7" font-size="7.3" text-anchor="end" textLength="7.47" lengthAdjust="spacingAndGlyphs">50</text>
<line x1="210.1" y1="337.7" x2="212.5" y2="337.7" stroke="#333" stroke-width="1.0"/>
<text x="208.5" y="339.6" font-size="7.3" text-anchor="end" textLength="11.2" lengthAdjust="spacingAndGlyphs">100</text>
<line x1="212.2" y1="430.0" x2="231.8" y2="430.0" stroke="#333" stroke-width="1.2"/>
<line x1="231.8" y1="428.2" x2="231.8" y2="431.8" stroke="#333" stroke-width="1.0"/>
<line x1="239.6" y1="430.0" x2="348.5" y2="430.0" stroke="#333" stroke-width="1.2"/>
<line x1="239.6" y1="428.2" x2="239.6" y2="431.8" stroke="#333" stroke-width="1.0"/>
<line x1="212.2" y1="430.0" x2="212.2" y2="432.4" stroke="#333" stroke-width="1.0"/>
<text x="212.2" y="441.0" font-size="7.3" text-anchor="middle">0</text>
<line x1="228.7" y1="430.0" x2="228.7" y2="432.4" stroke="#333" stroke-width="1.0"/>
<text x="228.7" y="441.0" font-size="7.3" text-anchor="middle">50</text>
<line x1="239.6" y1="430.0" x2="239.6" y2="432.4" stroke="#333" stroke-width="1.0"/>
<text x="239.6" y="441.0" font-size="7.3" text-anchor="middle">60</text>
<line x1="275.9" y1="430.0" x2="275.9" y2="432.4" stroke="#333" stroke-width="1.0"/>
<text x="275.9" y="441.0" font-size="7.3" text-anchor="middle">70</text>
<line x1="312.2" y1="430.0" x2="312.2" y2="432.4" stroke="#333" stroke-width="1.0"/>
<text x="312.2" y="441.0" font-size="7.3" text-anchor="middle">80</text>
<line x1="348.5" y1="430.0" x2="348.5" y2="432.4" stroke="#333" stroke-width="1.0"/>
<text x="348.5" y="441.0" font-size="7.3" text-anchor="middle">90</text>
<text x="284.0" y="449.6" font-size="8.15" text-anchor="middle">Days after implantation</text>
<text x="193.8" y="378.5" font-size="8.25" text-anchor="middle" transform="rotate(-90 193.8 378.5)">Percent survival (%)</text>
<line x1="218.2" y1="383.5" x2="225.4" y2="383.5" stroke="#333" stroke-width="1.3"/>
<text x="231.3" y="386.4" font-size="7.15">sgNeg</text>
<line x1="218.2" y1="393.8" x2="225.4" y2="393.8" stroke="#e06068" stroke-width="1.8"/>
<text x="231.3" y="396.4" font-size="7.15" textLength="33.6" lengthAdjust="spacingAndGlyphs">sgCHD2-1</text>
<text x="308.4" y="392.6" font-size="7.0">n.s.</text>
<path d="M212.5 337.7 H231.9 M239.6 337.7 H272.27" stroke="#dc3a44" stroke-width="1.7" fill="none"/>
<path d="M266.825 337.7 H268.64 V360.75 H272.27 V372.27 H283.16 V383.80 H294.05 V406.85 H301.31 V418.38 H308.57 V429.90" stroke="#333" stroke-width="1.3" fill="none"/>
<path d="M266.825 337.7 H272.27 V349.22 H275.90 V372.27 H290.42 V383.80 H294.05 V395.32 H297.68 V406.85 H308.57 V418.38 H326.72 V429.90" stroke="#dc3a44" stroke-width="1.5" fill="none"/>
</svg>
</body></html>
